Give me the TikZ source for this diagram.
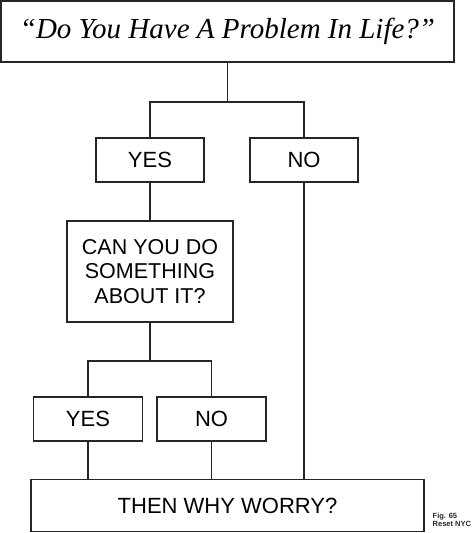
\documentclass[tikz,border=0pt]{standalone}
\usepackage{fontspec}
\setmainfont{Liberation Serif}
\setsansfont{Liberation Sans}
\begin{document}
\begin{tikzpicture}[x=1pt,y=-1pt,
  ln/.style={draw=black!85,line width=1.7pt},
  box/.style={ln,rectangle,inner sep=0pt,fill=white,text=black},
  ans/.style={box,minimum width=108pt,minimum height=44pt,font=\sffamily\fontsize{22}{24.5}\selectfont},
  wire/.style={ln}]
\useasboundingbox (0,0) rectangle (474,533);
\node[box,minimum width=453pt,minimum height=61pt,font=\itshape\fontsize{29}{32}\selectfont] (q) at (227.5,31.5) {“Do You Have A Problem In Life?”};
\node[ans] (yes1) at (150,160) {YES};
\node[ans] (no1) at (304,160) {NO};
\node[box,minimum width=166pt,minimum height=101pt,align=center,font=\sffamily\fontsize{21.5}{24.5}\selectfont] (can) at (150,271.5) {CAN YOU DO\\SOMETHING\\ABOUT IT?};
\node[ans,minimum width=109pt] (yes2) at (88,419) {YES};
\node[ans,minimum width=109pt] (no2) at (211.5,419) {NO};
\node[box,minimum width=393pt,minimum height=52pt,font=\sffamily\fontsize{22}{26}\selectfont] (end) at (227.5,505.5) {THEN WHY WORRY?};
\node[anchor=north west,inner sep=0pt,align=left,text=black!85,font=\sffamily\bfseries\fontsize{7.5}{8}\selectfont] (fig) at (432.5,513) {Fig. 65\\Reset NYC};
\coordinate (j1) at (227.5,102);
\coordinate (j2) at (150,361);
\draw[wire] (q.south) -- (j1);
\draw[wire] (yes1.north) |- (j1) -| (no1.north);
\draw[wire] (yes1.south) -- (can.north);
\draw[wire] (can.south) -- (j2);
\draw[wire] (yes2.north) |- (j2) -| (no2.north);
\draw[wire] (no1.south) -- (no1.south |- end.north);
\draw[wire] (yes2.south) -- (yes2.south |- end.north);
\draw[wire] (no2.south) -- (no2.south |- end.north);
\end{tikzpicture}
\end{document}
